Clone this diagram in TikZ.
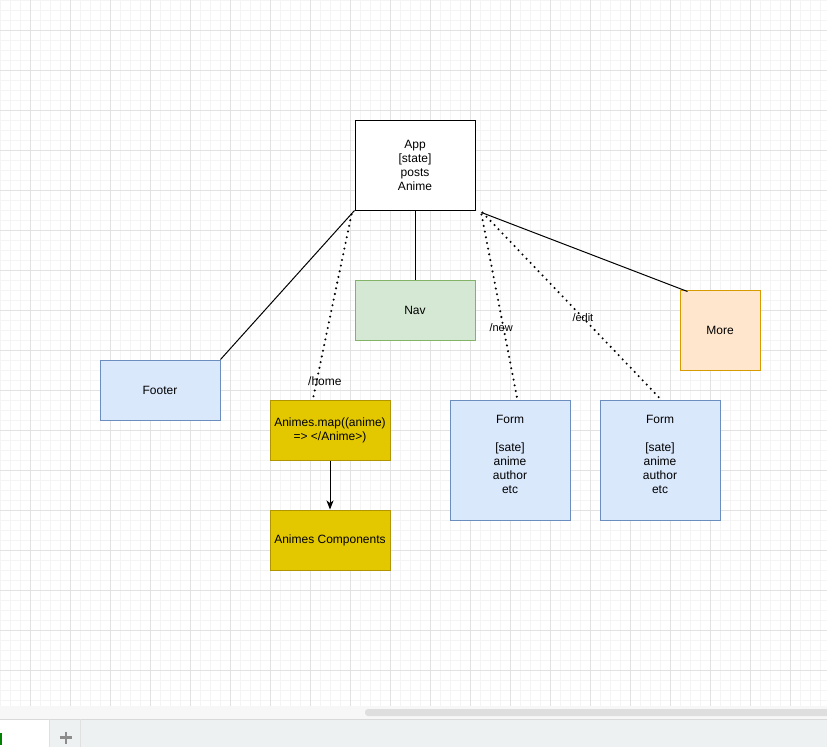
\documentclass[tikz,border=0pt]{standalone}
\usepackage{fontspec}
\setmainfont{Liberation Sans}
\usetikzlibrary{positioning,calc,arrows.meta}

\definecolor{navfill}{HTML}{D5E8D4}
\definecolor{navline}{HTML}{82B366}
\definecolor{bluefill}{HTML}{DAE8FC}
\definecolor{blueline}{HTML}{6C8EBF}
\definecolor{yelfill}{HTML}{E3C800}
\definecolor{yelline}{HTML}{B09500}
\definecolor{orgfill}{HTML}{FFE6CC}
\definecolor{orgline}{HTML}{D79B00}
\definecolor{gridmin}{HTML}{F4F4F4}
\definecolor{gridmaj}{HTML}{E2E2E2}
\definecolor{barfill}{HTML}{EEF1F2}

\begin{document}
\begin{tikzpicture}[x = 1pt, y = -1pt,
	every node/.style = {font = \fontsize{12}{14}\selectfont, align = center},
	box/.style = {draw, line width = 1pt, minimum width = 120pt, minimum height = 60pt, inner sep = 0pt},
	dotline/.style = {line width = 2.3pt, line cap = round, dash pattern = on 0pt off 5.8pt},
	plainline/.style = {line width = 1pt},
	edgelabel/.style = {font = \fontsize{11}{13}\selectfont, inner sep = 1pt}]
	\useasboundingbox (0,0) rectangle (827,747);
	\fill[white] (0,0) rectangle (827,706);
	% grid
	\foreach \g in {0,10,...,820} \draw[gridmin] (\g,0) -- (\g,706);
	\foreach \g in {0,10,...,700} \draw[gridmin] (0,\g) -- (827,\g);
	\foreach \g in {30,70,...,790} \draw[gridmaj] (\g,0) -- (\g,706);
	\foreach \g in {30,70,...,670} \draw[gridmaj] (0,\g) -- (827,\g);

	% boxes
	\node[box, fill = white, minimum height = 90pt] (App) at (415,165) {App\\{}[state]\\posts\\Anime};
	\node[box, fill = navfill, draw = navline] (Nav) at (415,310) {Nav};
	\node[box, fill = bluefill, draw = blueline] (Footer) at (160,390) {Footer};
	\node[box, fill = yelfill, draw = yelline] (Map) at (330,430) {Animes.map((anime)\\=> </Anime>)};
	\node[box, fill = yelfill, draw = yelline] (Comps) at (330,540) {Animes Components};
	\node[box, fill = bluefill, draw = blueline, minimum height = 120pt] (FormNew) at (510,460) {};
	\node[box, fill = bluefill, draw = blueline, minimum height = 120pt] (FormEdit) at (660,460) {};
	\node[anchor = north] (FormNewTxt) at (510,412) {Form\\[14pt]{}[sate]\\anime\\author\\etc};
	\node[anchor = north] (FormEditTxt) at (660,412) {Form\\[14pt]{}[sate]\\anime\\author\\etc};
	\node[box, fill = orgfill, draw = orgline, minimum width = 80pt, minimum height = 80pt] (More) at (720,330) {More};

	% connectors
	\draw[plainline] (App.south) -- (Nav.north);
	\draw[plainline] (App.south west) -- (Footer.north east);
	\draw[plainline] ([xshift = 6pt, yshift = -2pt]App.south east) -- ([xshift = 8pt, yshift = -2pt]More.north west);
	\draw[dotline] ([xshift = -3pt, yshift = -4pt]App.south west) -- ([xshift = -17pt, yshift = 1pt]Map.north)
		node[edgelabel, pos = 0.9, xshift = 8pt, yshift = -1pt, font = \fontsize{12}{14}\selectfont] {/home};
	\draw[dotline] ([xshift = 6pt, yshift = -4pt]App.south east) -- ([xshift = 7pt, yshift = 2pt]FormNew.north)
		node[edgelabel, pos = 0.61, xshift = -2pt, yshift = -1pt] {/new};
	\draw[dotline] ([xshift = 7pt, yshift = -2pt]App.south east) -- ([yshift = 1pt]FormEdit.north)
		node[edgelabel, pos = 0.56, xshift = 1pt, yshift = -1pt] {/edit};
	\draw[plainline, -{Stealth[length = 9pt, width = 7pt, inset = 2.5pt]}] (Map.south) -- (Comps.north);

	% bottom bar
	\fill[black!3] (0,706) rectangle (827,719);
	\fill[black!13, rounded corners = 3pt] (365,709) rectangle (835,716);
	\fill[barfill] (0,719) rectangle (827,747);
	\draw[black!15] (0,719) -- (827,719);
	\fill[white] (0,719.5) rectangle (49,747);
	\draw[black!12] (49,719) -- (49,747) (80,719) -- (80,747);
	\fill[green!50!black] (0,733) rectangle (1.5,745);
	\draw[black!45, line width = 2.5pt] (60,737.5) -- (72,737.5) (66,731.5) -- (66,743.5);
\end{tikzpicture}
\end{document}
